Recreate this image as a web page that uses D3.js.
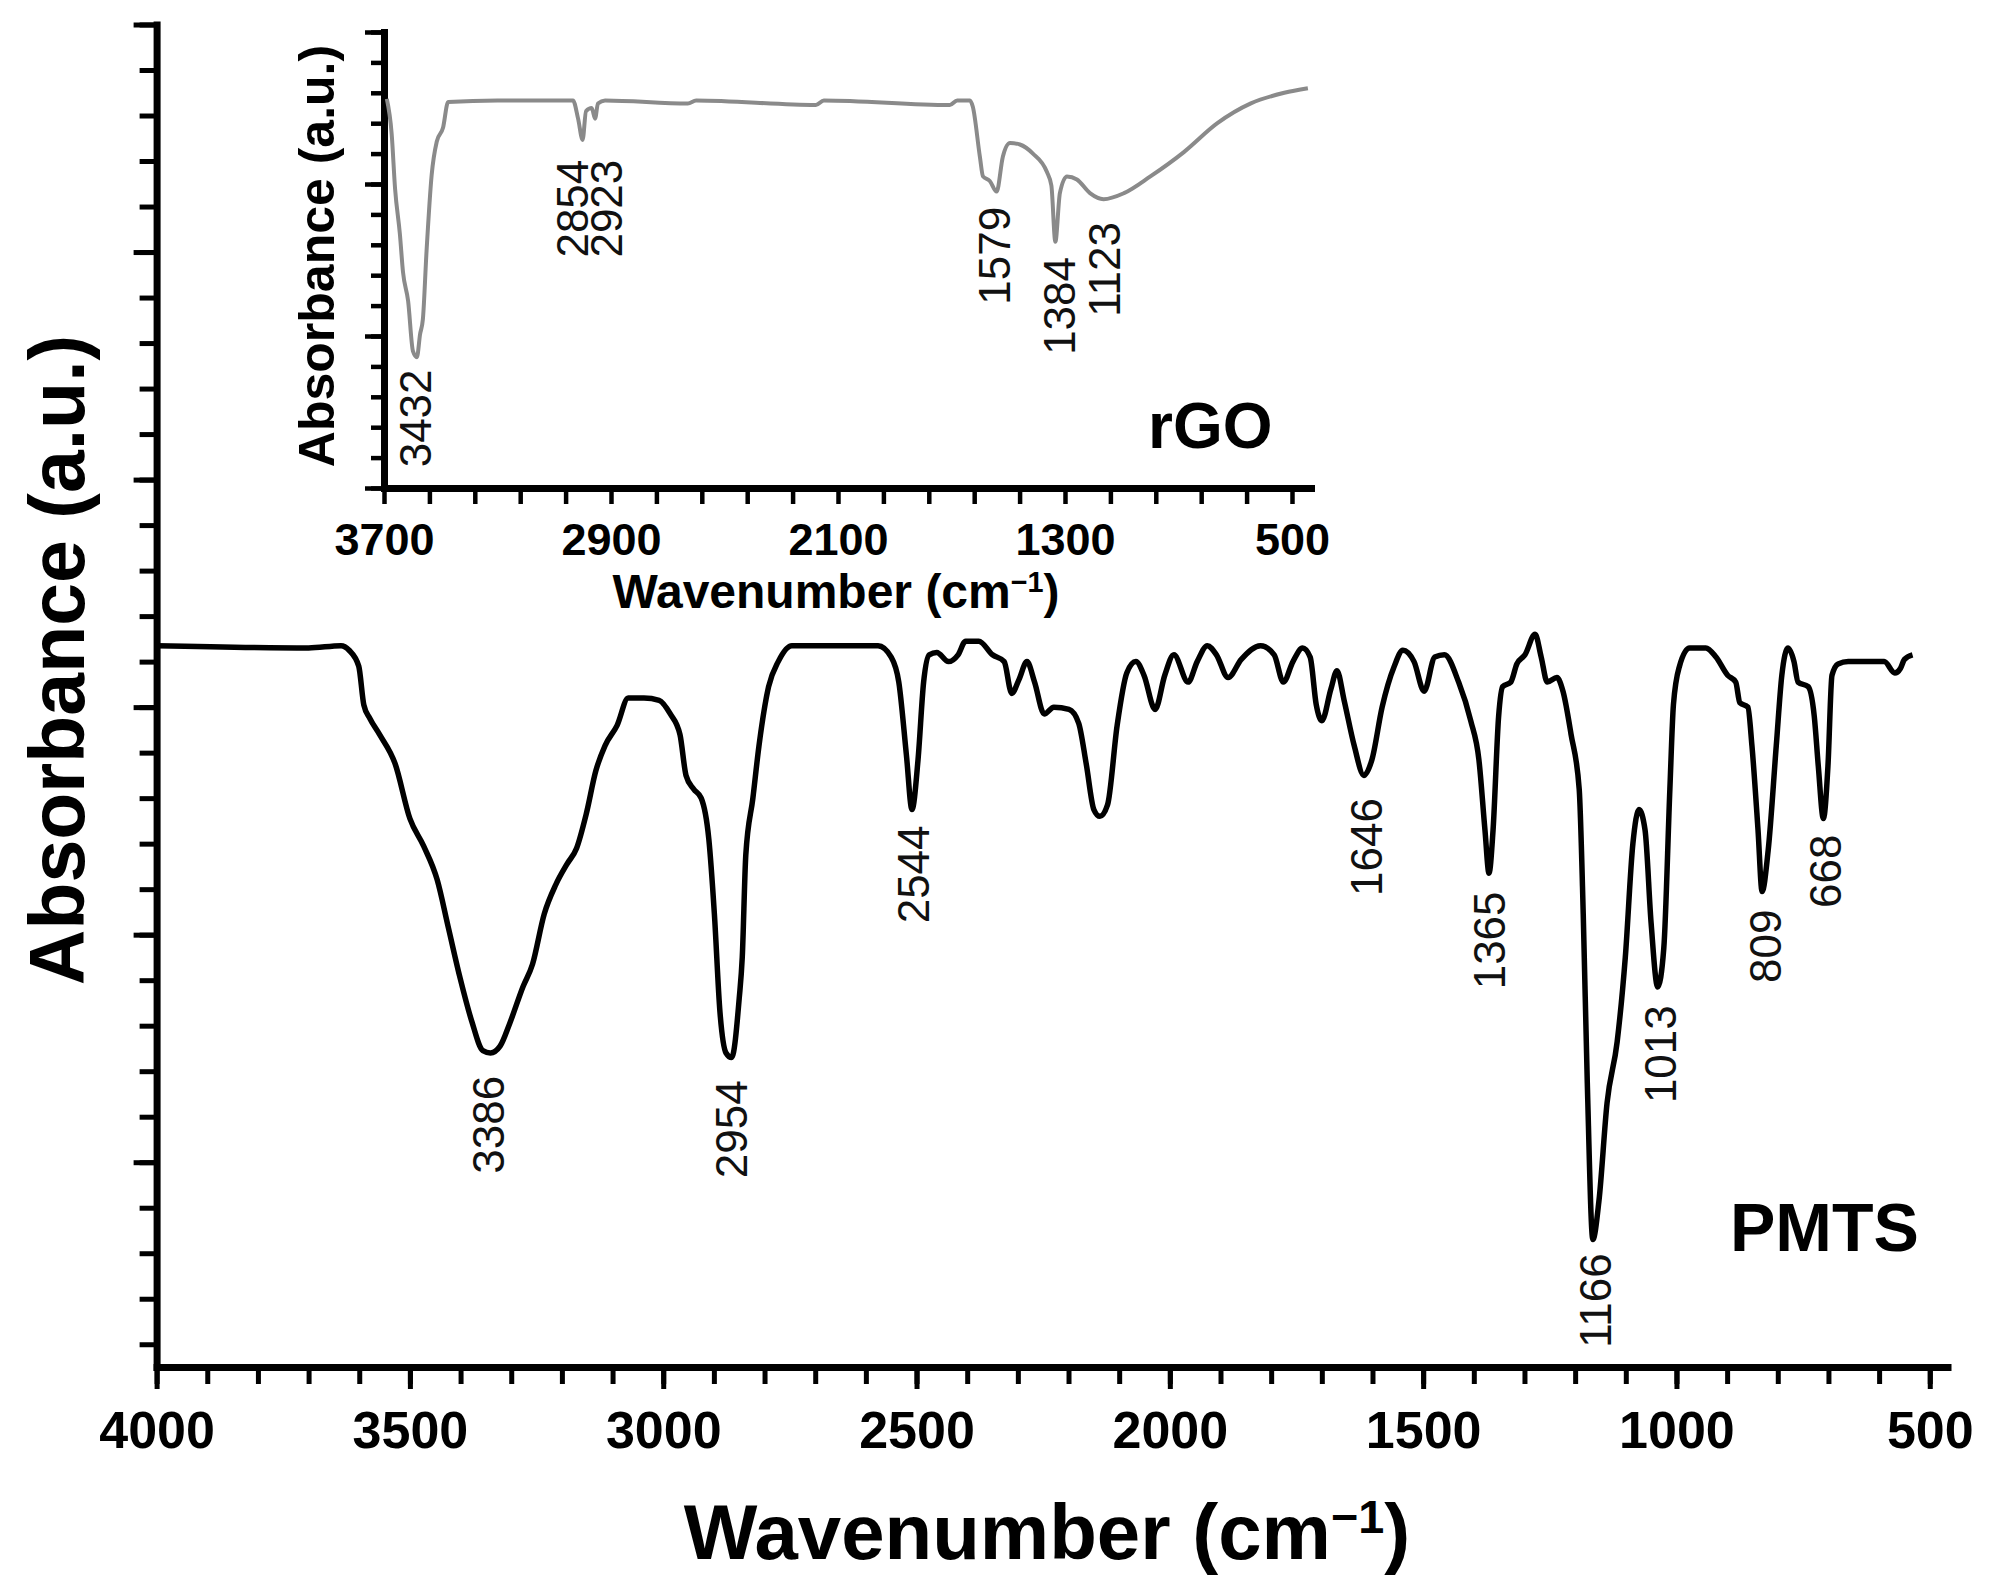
<!DOCTYPE html>
<html>
<head>
<meta charset="utf-8">
<script src="https://cdn.jsdelivr.net/npm/d3@7"></script>
<style>
  body { margin: 0; background: #fff; }
  svg { display: block; font-family: "Liberation Sans", Arial, sans-serif; }
</style>
</head>
<body>
<div id="chart"></div>
<script>
var width = 1996,
    height = 1590;

// PMTS spectrum, [wavenumber, absorbance a.u.]
const pmtsSpectrum = [
  [4000,3.27],[3700,3.26],[3636,3.27],[3620,3.25],[3601,3.18],[3591,3.01],[3579,2.95],[3560,2.88],
  [3529,2.75],[3500,2.51],[3473,2.39],[3446,2.24],[3424,2.03],[3401,1.81],[3378,1.62],[3356,1.49],
  [3341,1.48],[3322,1.51],[3303,1.61],[3277,1.77],[3258,1.87],[3235,2.09],[3212,2.22],[3190,2.31],
  [3171,2.38],[3152,2.53],[3133,2.72],[3115,2.83],[3091,2.92],[3069,3.04],[3038,3.04],[3008,3.03],
  [2986,2.97],[2967,2.88],[2955,2.70],[2940,2.64],[2925,2.60],[2910,2.42],[2899,2.09],[2888,1.66],
  [2876,1.48],[2865,1.46],[2850,1.72],[2844,1.90],[2837,2.35],[2823,2.60],[2811,2.83],[2792,3.09],
  [2773,3.20],[2746,3.27],[2576,3.27],[2550,3.22],[2535,3.11],[2520,2.79],[2509,2.55],[2497,2.77],
  [2486,3.11],[2475,3.23],[2460,3.24],[2437,3.20],[2418,3.23],[2403,3.29],[2377,3.29],[2350,3.23],
  [2327,3.20],[2312,3.06],[2298,3.12],[2282,3.20],[2267,3.11],[2248,2.97],[2229,3.00],[2199,2.99],
  [2180,2.93],[2165,2.75],[2150,2.55],[2138,2.52],[2123,2.57],[2104,2.92],[2085,3.15],[2067,3.20],
  [2051,3.14],[2029,2.99],[2010,3.14],[1992,3.23],[1964,3.11],[1946,3.20],[1926,3.27],[1908,3.23],
  [1885,3.13],[1859,3.21],[1821,3.27],[1794,3.23],[1776,3.11],[1757,3.20],[1738,3.26],[1723,3.22],
  [1711,3.01],[1700,2.94],[1682,3.08],[1670,3.16],[1656,3.03],[1636,2.83],[1617,2.70],[1601,2.77],
  [1581,3.00],[1557,3.18],[1540,3.25],[1518,3.20],[1498,3.07],[1477,3.22],[1458,3.23],[1430,3.11],
  [1406,2.94],[1390,2.77],[1378,2.46],[1370,2.27],[1362,2.46],[1351,2.96],[1343,3.09],[1327,3.11],
  [1315,3.19],[1299,3.23],[1279,3.32],[1267,3.22],[1255,3.11],[1236,3.13],[1224,3.07],[1208,2.88],
  [1192,2.64],[1184,2.09],[1176,1.35],[1165,0.66],[1153,0.83],[1137,1.26],[1117,1.53],[1101,1.90],
  [1086,2.40],[1074,2.55],[1062,2.46],[1050,2.05],[1037,1.77],[1025,1.94],[1013,2.64],[1006,3.01],
  [994,3.18],[974,3.26],[942,3.26],[922,3.22],[899,3.14],[883,3.11],[875,3.02],[859,3.00],
  [851,2.83],[839,2.46],[831,2.19],[819,2.37],[803,2.83],[792,3.14],[780,3.26],[768,3.20],
  [760,3.11],[740,3.09],[728,2.96],[720,2.74],[710,2.51],[701,2.74],[693,3.14],[681,3.19],
  [661,3.20],[590,3.20],[569,3.15],[558,3.17],[550,3.21],[534,3.23]
];

// rGO spectrum (inset), [wavenumber, absorbance a.u.]
const rgoSpectrum = [
  [3690,2.56],[3673,2.33],[3661,1.97],[3644,1.67],[3633,1.42],[3615,1.23],[3598,0.90],[3584,0.86],
  [3573,1.01],[3563,1.11],[3550,1.56],[3532,2.06],[3514,2.28],[3492,2.37],[3474,2.54],[3300,2.55],
  [3034,2.55],[3016,2.43],[3000,2.29],[2988,2.48],[2968,2.50],[2956,2.43],[2946,2.53],[2921,2.55],
  [2629,2.53],[2600,2.55],[2178,2.52],[2150,2.55],[1706,2.52],[1680,2.55],[1635,2.55],[1625,2.51],
  [1600,2.18],[1589,2.05],[1565,2.02],[1541,1.95],[1519,2.18],[1494,2.27],[1459,2.26],[1413,2.20],
  [1364,2.08],[1348,1.99],[1334,1.62],[1318,1.94],[1293,2.05],[1258,2.03],[1212,1.94],[1164,1.90],
  [1092,1.94],[999,2.05],[881,2.21],[763,2.40],[645,2.53],[527,2.60],[444,2.63]
];

// peak labels: text, wavenumber and absorbance where the label starts
const pmtsPeaks = [
  ["3386",3345,1.38],["2954",2866,1.36],["2544",2505,2.48],["1646",1611,2.60],["1365",1368,2.19],
  ["1166",1159,0.60],["1013",1032,1.69],["809",825,2.11],["668",705,2.44]
];
const rgoPeaks = [
  ["3432",3587,0.78],["2854",3034,2.16],["2923",2914,2.16],["1579",1547,1.85],
  ["1384",1318,1.52],["1123",1160,1.75]
];

// tick values
const mainXMajor = [4000, 3500, 3000, 2500, 2000, 1500, 1000, 500];
const mainXMinor = d3.range(4000, 499, -100);
const mainYMajor = [1, 2, 3, 4, 5, 6];
const mainYMinor = d3.range(1, 31).map(function(i) { return +(i * 0.2).toFixed(1); });
const insetXTicks = d3.range(3700, 499, -160);
const insetXLabels = [3700, 2900, 2100, 1300, 500];
const insetYMajor = [0, 1, 2, 3];
const insetYMinor = d3.range(0, 16).map(function(i) { return +(i * 0.2).toFixed(1); });

var svg = d3.select('#chart').append('svg')
  .attr('width', width)
  .attr('height', height);

// scales
var x = d3.scaleLinear().domain([4000, 465]).range([156.6, 1947.5]);
var y = d3.scaleLinear().domain([0.1, 6]).range([1367, 24.5]);
var xi = d3.scaleLinear().domain([3700, 433]).range([384, 1311]);
var yi = d3.scaleLinear().domain([0, 3]).range([488, 32]);

function styleAxis(g, axisWidth, tickWidth) {
  g.select('.domain').attr('stroke', '#000').attr('stroke-width', axisWidth).attr('stroke-linecap', 'square');
  g.selectAll('.tick line').attr('stroke', '#000').attr('stroke-width', tickWidth);
  g.selectAll('.tick text').attr('fill', '#000').attr('font-weight', 'bold');
}

// ---- main chart axes
var gxMinor = svg.append('g').attr('transform', 'translate(0,1367)')
  .call(d3.axisBottom(x).tickValues(mainXMinor).tickSize(17).tickSizeOuter(0).tickFormat(''));
gxMinor.select('.domain').remove();
styleAxis(gxMinor, 7, 5);

var gx = svg.append('g').attr('transform', 'translate(0,1367)')
  .call(d3.axisBottom(x).tickValues(mainXMajor).tickSize(22).tickSizeOuter(0).tickPadding(22).tickFormat(d3.format('d')));
gx.selectAll('.tick text').attr('font-size', 52);
styleAxis(gx, 7, 5);

var gyMinor = svg.append('g').attr('transform', 'translate(156.6,0)')
  .call(d3.axisLeft(y).tickValues(mainYMinor).tickSize(17).tickSizeOuter(0).tickFormat(''));
gyMinor.select('.domain').remove();
styleAxis(gyMinor, 7, 5);

var gy = svg.append('g').attr('transform', 'translate(156.6,0)')
  .call(d3.axisLeft(y).tickValues(mainYMajor).tickSize(23).tickSizeOuter(0).tickFormat(''));
styleAxis(gy, 7, 5);

// main spectrum
var line = d3.line()
  .x(function(d) { return x(d[0]); })
  .y(function(d) { return y(d[1]); })
  .curve(d3.curveMonotoneX);

svg.append('path')
  .datum(pmtsSpectrum)
  .attr('fill', 'none')
  .attr('stroke', '#000')
  .attr('stroke-width', 5.5)
  .attr('stroke-linejoin', 'round')
  .attr('d', line);

// ---- inset axes
var gixMinor = svg.append('g').attr('transform', 'translate(0,488)')
  .call(d3.axisBottom(xi).tickValues(insetXTicks).tickSize(16).tickSizeOuter(0).tickPadding(19)
    .tickFormat(function(d) { return insetXLabels.indexOf(d) >= 0 ? d : ''; }));
gixMinor.selectAll('.tick text').attr('font-size', 45);
styleAxis(gixMinor, 7, 4.5);

var giyMinor = svg.append('g').attr('transform', 'translate(384,0)')
  .call(d3.axisLeft(yi).tickValues(insetYMinor).tickSize(13).tickSizeOuter(0).tickFormat(''));
giyMinor.select('.domain').remove();
styleAxis(giyMinor, 7, 4.5);

var giy = svg.append('g').attr('transform', 'translate(384,0)')
  .call(d3.axisLeft(yi).tickValues(insetYMajor).tickSize(19).tickSizeOuter(0).tickFormat(''));
styleAxis(giy, 7, 4.5);

var insetLine = d3.line()
  .x(function(d) { return xi(d[0]); })
  .y(function(d) { return yi(d[1]); })
  .curve(d3.curveMonotoneX);

svg.append('path')
  .datum(rgoSpectrum)
  .attr('fill', 'none')
  .attr('stroke', '#8a8a8a')
  .attr('stroke-width', 4)
  .attr('stroke-linejoin', 'round')
  .attr('d', insetLine);

// ---- peak labels (rotated, reading upward)
function peakLabels(data, sx, sy) {
  svg.append('g').selectAll('text')
    .data(data)
    .join('text')
    .attr('transform', function(d) { return 'translate(' + sx(d[1]) + ',' + sy(d[2]) + ') rotate(-90)'; })
    .attr('text-anchor', 'end')
    .attr('dy', '0.35em')
    .attr('font-size', 44)
    .attr('fill', '#111')
    .text(function(d) { return d[0]; });
}
peakLabels(pmtsPeaks, x, y);
peakLabels(rgoPeaks, xi, yi);

// ---- titles
function wavenumberTitle(sel) {
  sel.append('tspan').text('Wavenumber (cm');
  sel.append('tspan').attr('baseline-shift', 'super').attr('font-size', '0.6em').text('\u22121');
  sel.append('tspan').text(')');
}

svg.append('text')
  .attr('x', 1047).attr('y', 1559)
  .attr('text-anchor', 'middle')
  .attr('font-size', 78).attr('font-weight', 'bold')
  .call(wavenumberTitle);

svg.append('text')
  .attr('transform', 'translate(84,660) rotate(-90)')
  .attr('text-anchor', 'middle')
  .attr('font-size', 77).attr('font-weight', 'bold')
  .text('Absorbance (a.u.)');

svg.append('text')
  .attr('x', 836).attr('y', 608)
  .attr('text-anchor', 'middle')
  .attr('font-size', 48).attr('font-weight', 'bold')
  .call(wavenumberTitle);

svg.append('text')
  .attr('transform', 'translate(334,256) rotate(-90)')
  .attr('text-anchor', 'middle')
  .attr('font-size', 50).attr('font-weight', 'bold')
  .text('Absorbance (a.u.)');

// sample names
svg.append('text')
  .attr('x', 1730).attr('y', 1251)
  .attr('font-size', 68).attr('font-weight', 'bold')
  .text('PMTS');

svg.append('text')
  .attr('x', 1148).attr('y', 448)
  .attr('font-size', 64).attr('font-weight', 'bold')
  .text('rGO');
</script>
</body>
</html>
